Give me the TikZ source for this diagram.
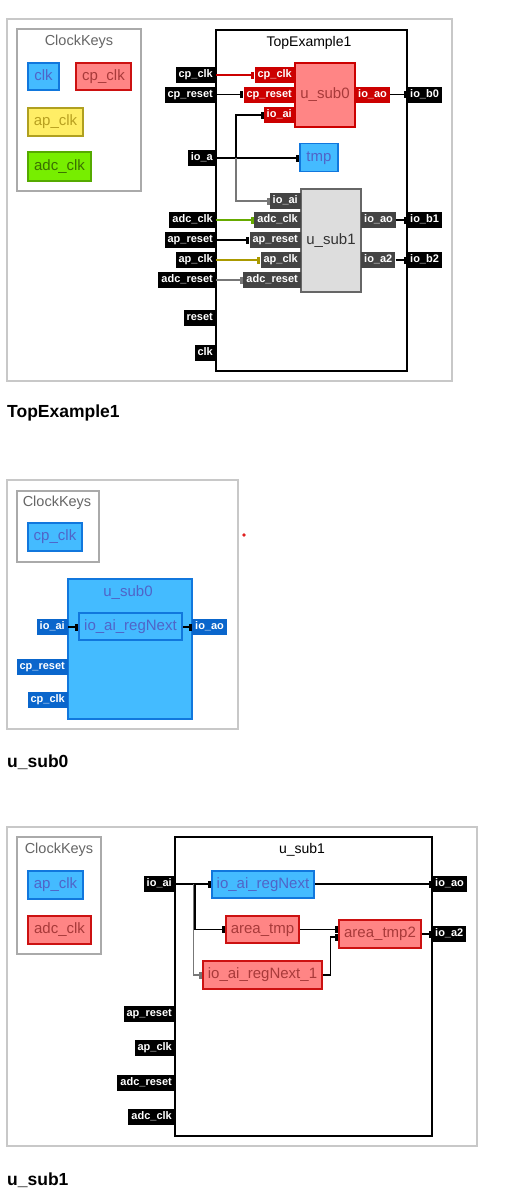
\documentclass[tikz,border=0pt]{standalone}
\usepackage{fontspec}
\setmainfont{Liberation Sans}
\usetikzlibrary{arrows.meta}
\definecolor{keyblue}{HTML}{44BBFF}
\definecolor{keyblueb}{HTML}{1177DD}
\definecolor{bluetxt}{HTML}{5064C8}
\definecolor{keyred}{HTML}{FF8585}
\definecolor{keyredb}{HTML}{CC1111}
\definecolor{redtxt}{HTML}{A83A3A}
\definecolor{keyyel}{HTML}{FFEE66}
\definecolor{keyyelb}{HTML}{B0A020}
\definecolor{yeltxt}{HTML}{B8A020}
\definecolor{keygrn}{HTML}{77EE00}
\definecolor{keygrnb}{HTML}{55AA00}
\definecolor{grntxt}{HTML}{3A7000}
\definecolor{portred}{HTML}{CC0000}
\definecolor{portgrey}{HTML}{444444}
\definecolor{portblue}{HTML}{0A66CC}
\definecolor{framegrey}{HTML}{C8C8C8}
\definecolor{keysgrey}{HTML}{AAAAAA}
\definecolor{keystxt}{HTML}{666666}
\definecolor{subgrey}{HTML}{DDDDDD}
\definecolor{subgreyb}{HTML}{666666}
\definecolor{clkgreen}{HTML}{66AA00}
\definecolor{clkolive}{HTML}{AA9900}
\definecolor{wiregrey}{HTML}{777777}
\definecolor{dotred}{HTML}{E02020}
\tikzset{
  outer/.style={draw=framegrey, line width=1.2},
  keysbox/.style={draw=keysgrey, line width=1.5, inner sep=0},
  keystitle/.style={text=keystxt, font=\fontsize{14.5}{16}\selectfont, inner sep=0},
  blk/.style={inner sep=0, line width=1.5, font=\fontsize{15}{17}\selectfont, text height=11, text depth=3.5},
  bluebox/.style={blk, fill=keyblue, draw=keyblueb, text=bluetxt},
  redbox/.style={blk, fill=keyred, draw=keyredb, text=redtxt},
  yelbox/.style={blk, fill=keyyel, draw=keyyelb, text=yeltxt},
  grnbox/.style={blk, fill=keygrn, draw=keygrnb, text=grntxt},
  port/.style={text=white, font=\fontsize{11}{12}\selectfont\bfseries, inner xsep=3, inner ysep=0, minimum height=16, text height=8, text depth=2.5},
  bport/.style={port, fill=black},
  rport/.style={port, fill=portred},
  gport/.style={port, fill=portgrey},
  uport/.style={port, fill=portblue},
  modframe/.style={draw=black, line width=2, inner sep=0},
  modtitle/.style={font=\fontsize{14}{16}\selectfont, inner sep=0},
  sectitle/.style={font=\fontsize{17.5}{19}\selectfont\bfseries, inner sep=0, anchor=west},
  wire/.style={line width=1.3, -{Rectangle[length=3,width=7]}},
}
\begin{document}
\begin{tikzpicture}[x=1pt,y=-1pt]
\useasboundingbox[fill=white] (0,0) rectangle (504,1203);

% ================= Section 1 =================
\draw[outer] (7,19) rectangle (452,381);
\node[keysbox, minimum width=124, minimum height=162] (k1) at (79,110) {};
\node[keystitle] (k1t) at (79,42) {ClockKeys};
\node[bluebox, minimum width=31, minimum height=27] (k1clk) at (43.5,76.5) {clk};
\node[redbox, minimum width=55, minimum height=27] (k1cp) at (103.5,76.5) {cp\_clk};
\node[yelbox, minimum width=55, minimum height=28] (k1ap) at (55.5,122) {ap\_clk};
\node[grnbox, minimum width=63, minimum height=29] (k1adc) at (59.5,166.5) {adc\_clk};

\node[modframe, minimum width=191, minimum height=341] (top) at (311.5,200.5) {};
\node[modtitle] (topt) at (309,43) {TopExample1};

\node[bport, anchor=east] (ecpclk) at (216,75) {cp\_clk};
\node[bport, anchor=east] (ecprst) at (216,94.5) {cp\_reset};
\node[bport, anchor=east] (eioa) at (216,158) {io\_a};
\node[bport, anchor=east] (eadcclk) at (216,220) {adc\_clk};
\node[bport, anchor=east] (eaprst) at (216,240) {ap\_reset};
\node[bport, anchor=east] (eapclk) at (216,260) {ap\_clk};
\node[bport, anchor=east] (eadcrst) at (216,280) {adc\_reset};
\node[bport, anchor=east] (erst) at (216,318) {reset};
\node[bport, anchor=east] (eclk) at (216,353) {clk};
\node[bport, anchor=west] (eb0) at (407,94.5) {io\_b0};
\node[bport, anchor=west] (eb1) at (407,220) {io\_b1};
\node[bport, anchor=west] (eb2) at (407,260) {io\_b2};

\node[redbox, draw=portred, minimum width=60, minimum height=64] (s0) at (325,95) {u\_sub0};
\node[rport, anchor=east] (s0cpclk) at (295,75) {cp\_clk};
\node[rport, anchor=east] (s0cprst) at (295,94.5) {cp\_reset};
\node[rport, anchor=east] (s0ioai) at (295,115) {io\_ai};
\node[rport, anchor=west] (s0ioao) at (355,94.5) {io\_ao};

\node[bluebox, minimum width=38, minimum height=28] (tmp) at (319,157.5) {tmp};

\node[blk, fill=subgrey, draw=subgreyb, text=black!80, minimum width=60, minimum height=103] (s1) at (331,240.5) {u\_sub1};
\node[gport, anchor=east] (s1ioai) at (301,201) {io\_ai};
\node[gport, anchor=east] (s1adcclk) at (301,220) {adc\_clk};
\node[gport, anchor=east] (s1aprst) at (301,240) {ap\_reset};
\node[gport, anchor=east] (s1apclk) at (301,260) {ap\_clk};
\node[gport, anchor=east] (s1adcrst) at (301,280) {adc\_reset};
\node[gport, anchor=west] (s1ioao) at (361,220) {io\_ao};
\node[gport, anchor=west] (s1ioa2) at (361,260) {io\_a2};

\draw[wire, portred] (ecpclk.east) -- (s0cpclk.west);
\draw[wire] (ecprst.east) -- (s0cprst.west);
\draw[wire] (eioa.east) -- (tmp.west |- eioa.east);
\coordinate (j1) at (236,158);
\draw[wire] (j1) |- (s0ioai.west);
\draw[wire, wiregrey] (j1) |- (s1ioai.west);
\draw[wire, clkgreen] (eadcclk.east) -- (s1adcclk.west);
\draw[wire] (eaprst.east) -- (s1aprst.west);
\draw[wire, clkolive] (eapclk.east) -- (s1apclk.west);
\draw[wire, wiregrey] (eadcrst.east) -- (s1adcrst.west);
\draw[wire] (s0ioao.east) -- (eb0.west);
\draw[wire] (s1ioao.east) -- (eb1.west);
\draw[wire] (s1ioa2.east) -- (eb2.west);

\node[sectitle] (t1) at (7,413) {TopExample1};

% ================= Section 2 =================
\draw[outer] (7,480) rectangle (238,729);
\node[keysbox, minimum width=82, minimum height=71] (k2) at (58,526.5) {};
\node[keystitle] (k2t) at (57,503) {ClockKeys};
\node[bluebox, minimum width=54, minimum height=28] (k2cp) at (55,537) {cp\_clk};
\fill[dotred] (244,535) circle (1.8);

\node[blk, fill=keyblue, draw=keyblueb, minimum width=124, minimum height=140] (u0) at (130,649) {};
\node[modtitle, text=bluetxt, font=\fontsize{15}{17}\selectfont] (u0t) at (128,593) {u\_sub0};
\node[bluebox, minimum width=103, minimum height=27] (rn) at (130.5,626.5) {io\_ai\_regNext};
\node[uport, anchor=east] (u0ioai) at (68,627) {io\_ai};
\node[uport, anchor=west] (u0ioao) at (192,627) {io\_ao};
\node[uport, anchor=east] (u0cprst) at (68,667) {cp\_reset};
\node[uport, anchor=east] (u0cpclk) at (68,700) {cp\_clk};
\draw[wire] (u0ioai.east) -- (rn.west |- u0ioai.east);
\draw[wire] (rn.east |- u0ioao.west) -- (u0ioao.west);

\node[sectitle] (t2) at (7,762) {u\_sub0};

% ================= Section 3 =================
\draw[outer] (7,827) rectangle (477,1146);
\node[keysbox, minimum width=84, minimum height=117] (k3) at (59,895.5) {};
\node[keystitle] (k3t) at (59,850) {ClockKeys};
\node[bluebox, minimum width=55, minimum height=28] (k3ap) at (55.5,885) {ap\_clk};
\node[redbox, minimum width=63, minimum height=28] (k3adc) at (59.5,930) {adc\_clk};

\node[modframe, minimum width=257, minimum height=299] (u1) at (303.5,986.5) {};
\node[modtitle] (u1t) at (302,850) {u\_sub1};

\node[bport, anchor=east] (u1ioai) at (175,884) {io\_ai};
\node[bport, anchor=east] (u1aprst) at (175,1014) {ap\_reset};
\node[bport, anchor=east] (u1apclk) at (175,1048) {ap\_clk};
\node[bport, anchor=east] (u1adcrst) at (175,1083) {adc\_reset};
\node[bport, anchor=east] (u1adcclk) at (175,1117) {adc\_clk};
\node[bport, anchor=west] (u1ioao) at (432,884) {io\_ao};
\node[bport, anchor=west] (u1ioa2) at (432,934) {io\_a2};

\node[bluebox, minimum width=102, minimum height=27] (rn2) at (263,884.5) {io\_ai\_regNext};
\node[redbox, minimum width=73, minimum height=27] (at) at (262.5,929.5) {area\_tmp};
\node[redbox, minimum width=82, minimum height=28] (at2) at (380,934) {area\_tmp2};
\node[redbox, minimum width=119, minimum height=28] (rn1) at (262.5,975) {io\_ai\_regNext\_1};

\draw[wire] (u1ioai.east) -- (rn2.west |- u1ioai.east);
\coordinate (j2) at (195,884);
\coordinate (j3) at (193.5,884);
\draw[wire] (j2) |- (at.west);
\draw[wire, wiregrey] (j3) |- (rn1.west);
\draw[wire] (rn2.east |- u1ioao.west) -- (u1ioao.west);
\draw[wire] (at.east) -- (at.east -| at2.west);
\draw[wire] (rn1.east) -| ([xshift=-8pt,yshift=-3pt]at2.west) -- ([yshift=-3pt]at2.west);
\draw[wire] (at2.east) -- (u1ioa2.west);

\node[sectitle] (t3) at (7,1180) {u\_sub1};
\end{tikzpicture}
\end{document}
